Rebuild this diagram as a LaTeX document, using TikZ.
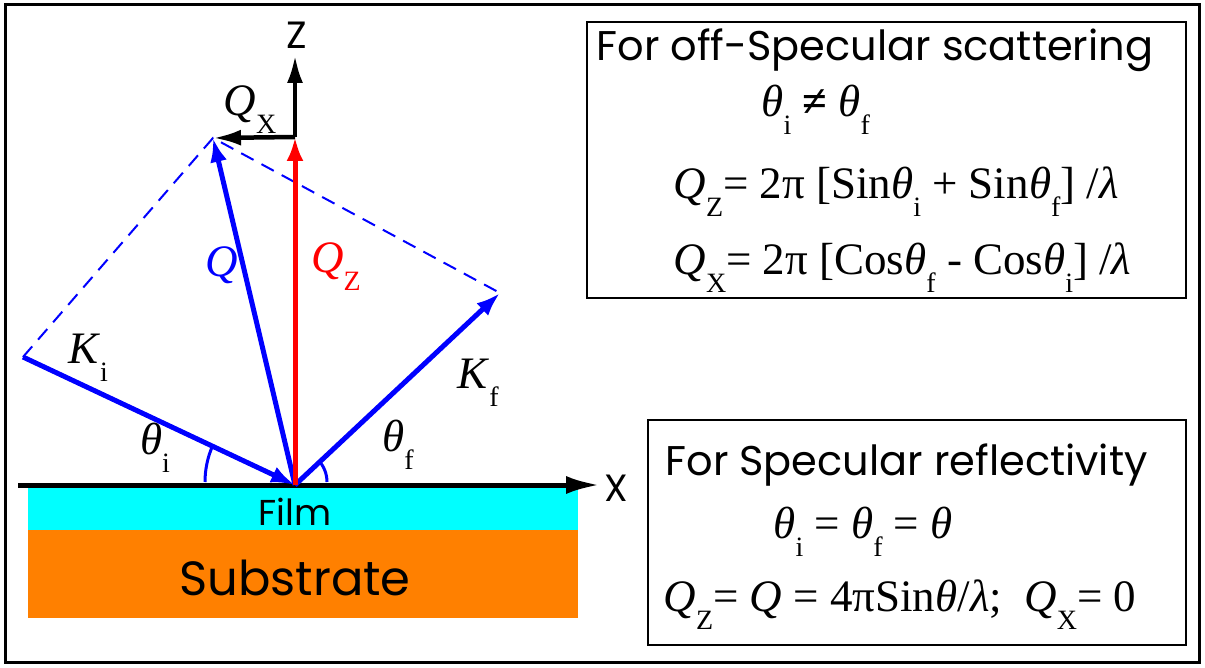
\documentclass[tikz,border=0pt]{standalone}
\usepackage{fontspec}
\setmainfont{Liberation Serif}
\newfontfamily\gothic{Poppins}
\usetikzlibrary{arrows.meta}
\definecolor{filmc}{RGB}{0,255,255}
\definecolor{subc}{RGB}{255,128,0}
\definecolor{vblue}{RGB}{0,0,255}
\definecolor{vred}{RGB}{255,0,0}
\newcommand\sbs[1]{\raisebox{-0.4em}{\fontsize{28}{28}\selectfont\upshape #1}}
\newcommand\thi{\textit{θ}}
\begin{document}
\begin{tikzpicture}[x=1pt,y=-1pt,
  vec/.style={line width=5pt,-{Latex[length=24pt,width=17pt]}},
  mathlbl/.style={font=\fontsize{45}{48}\selectfont},
  sanslbl/.style={font=\gothic\fontsize{41.5}{44}\selectfont},
  eqbox/.style={draw,line width=2pt}]
\useasboundingbox (0,0) rectangle (1205,668);
\draw[line width=3pt] (5,5) rectangle (1199,662);
% layers
\fill[filmc] (28,487) rectangle (578,530);
\fill[subc] (28,530) rectangle (578,618);
\node[font=\gothic\fontsize{36}{40}\selectfont] (film) at (295,512) {Film};
\node[font=\gothic\fontsize{48}{52}\selectfont] (sub) at (295,578) {Substrate};
% points
\coordinate (O) at (295,485);
\coordinate (xs) at (18,485);
\coordinate (xe) at (600,485);
\coordinate (zt) at (295,137);
\coordinate (ze) at (295,55);
\coordinate (qt) at (213,138);
\coordinate (ki) at (23,357);
\coordinate (kf) at (500,293);
\draw[line width=5pt,-{Latex[length=34pt,width=18pt]}] (xs) -- (xe);
\node[font=\gothic\fontsize{38}{40}\selectfont] (xl) at (616,488) {X};
\draw[line width=4.5pt,-{Latex[length=28pt,width=16pt]}] (zt) -- (ze);
\node[font=\gothic\fontsize{38}{40}\selectfont] (zl) at (297,35) {Z};
\draw[vblue,line width=2pt,dash pattern=on 14pt off 9pt] (ki) -- (qt) -- (kf);
\draw[vec,vblue] (ki) -- (O);
\draw[vec,vblue] (O) -- (kf);
\draw[vec,vblue] (O) -- (qt);
\draw[vec,vred] (O) -- (zt);
\draw[line width=4.5pt,-{Latex[length=28pt,width=16pt]}] (zt) -- (qt);
% angle marks
\draw[vblue,line width=3pt] (205,482) arc[start angle=180,end angle=203,radius=90];
\draw[vblue,line width=3pt] (327,482) arc[start angle=0,end angle=-43,radius=32];
% labels
\node[mathlbl] (lqx) at (250,110) {\textit{Q}\sbs{X}};
\node[mathlbl,vblue] (lq) at (222,265) {\textit{Q}};
\node[mathlbl,vred] (lqz) at (336,267) {\textit{Q}\sbs{Z}};
\node[mathlbl] (lki) at (88,358) {\textit{K}\sbs{i}};
\node[mathlbl] (lkf) at (478,383) {\textit{K}\sbs{f}};
\node[mathlbl] (lti) at (155,448) {\thi\sbs{i}};
\node[mathlbl] (ltf) at (398,445) {\thi\sbs{f}};
% box 1
\draw[eqbox] (587,22) rectangle (1186,298);
\node[sanslbl,anchor=west] (h1) at (593,50) {For off-Specular scattering};
\node[mathlbl,anchor=west] (e1) at (758,110) {\thi\sbs{i} \textbf{≠} \thi\sbs{f}};
\node[mathlbl,anchor=west] (e2) at (670,192) {\textit{Q}\sbs{Z}= 2π [Sin\thi\sbs{i} + Sin\thi\sbs{f}] /\textit{λ}};
\node[mathlbl,anchor=west] (e3) at (670,268) {\textit{Q}\sbs{X}= 2π [Cos\thi\sbs{f} - Cos\thi\sbs{i}] /\textit{λ}};
% box 2
\draw[eqbox] (648,420) rectangle (1186,645);
\node[sanslbl,anchor=west] (h2) at (662,465) {For Specular reflectivity};
\node[mathlbl,anchor=west] (e4) at (770,532) {\thi\sbs{i} = \thi\sbs{f} = \thi};
\node[mathlbl,anchor=west] (e5) at (660,605) {\textit{Q}\sbs{Z}= \textit{Q} = 4πSin\thi/\textit{λ};\ \ \textit{Q}\sbs{X}= 0};
\end{tikzpicture}
\end{document}
